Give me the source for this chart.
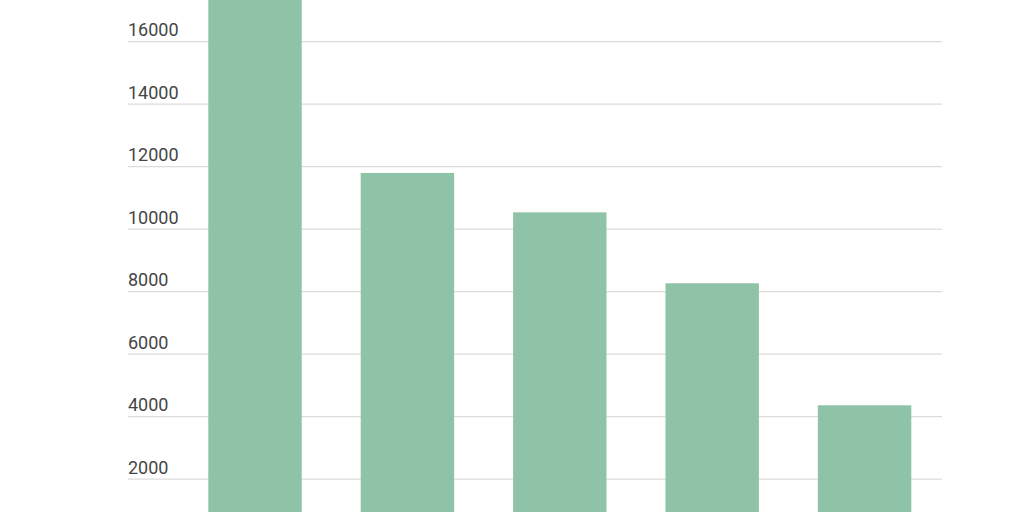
<!DOCTYPE html>
<html>
<head>
<meta charset="utf-8">
<script src="https://cdn.jsdelivr.net/npm/d3@7"></script>
<style>
  html, body { margin: 0; padding: 0; background: #fff; }
  svg { display: block; }
</style>
</head>
<body>
<div id="chart"></div>
<script>
// values; first bar runs past the top edge
const categories = ['A', 'B', 'C', 'D', 'E'];
const values = [18000, 11800, 10540, 8270, 4365];
const yTicks = [2000, 4000, 6000, 8000, 10000, 12000, 14000, 16000];

const W = 1024;
const H = 512;
const margin = { top: 41.7, left: 128, right: 82 };
const plotH = 500; // 0 sits below the visible area

const svg = d3
  .select('#chart')
  .append('svg')
  .attr('width', W)
  .attr('height', H);

// bars occupy a narrower span than the grid
const x = d3
  .scaleBand()
  .domain(categories)
  .range([208.3, 911.3])
  .paddingInner(0.387)
  .paddingOuter(0);

const y = d3
  .scaleLinear()
  .domain([0, 16000])
  .range([margin.top + plotH, margin.top]);

// grid lines
svg
  .append('g')
  .selectAll('line')
  .data(yTicks)
  .enter()
  .append('line')
  .attr('x1', margin.left)
  .attr('x2', W - margin.right)
  .attr('y1', (d) => y(d))
  .attr('y2', (d) => y(d))
  .style('stroke', '#dcdcdc')
  .style('stroke-width', 1.3);

// tick labels sit above their line
svg
  .append('g')
  .selectAll('text')
  .data(yTicks)
  .enter()
  .append('text')
  .attr('x', margin.left)
  .attr('y', (d) => y(d) - 5.5)
  .text((d) => d)
  .style('font-family', 'Roboto, sans-serif')
  .style('font-size', '18px')
  .style('fill', '#454545');

svg
  .append('g')
  .selectAll('rect')
  .data(values)
  .enter()
  .append('rect')
  .attr('x', (d, i) => x(categories[i]))
  .attr('y', (d) => y(d))
  .attr('width', x.bandwidth())
  .attr('height', (d) => y(0) - y(d))
  .style('fill', '#8fc3a7');
</script>
</body>
</html>
